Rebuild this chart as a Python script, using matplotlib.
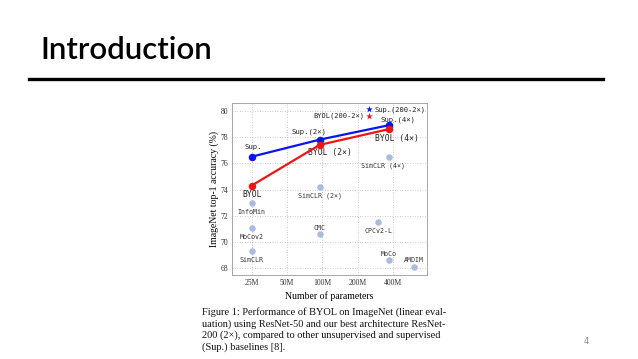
import matplotlib
matplotlib.use("Agg")
import matplotlib.pyplot as plt
from matplotlib.ticker import FixedLocator, NullLocator

# ---- data ----
sup_params = [25, 95, 370]
sup_acc = [76.5, 77.8, 78.9]
sup_labels = ["Sup.", "Sup.(2×)", "Sup.(4×)"]

byol_params = [25, 95, 370]
byol_acc = [74.3, 77.4, 78.6]
byol_labels = ["BYOL", "BYOL (2×)", "BYOL (4×)"]

star_params = [250, 250]
star_acc = [80.1, 79.6]
star_labels = ["Sup.(200-2×)", "BYOL(200-2×)"]

base_names = ["InfoMin", "MoCov2", "SimCLR", "SimCLR (2×)", "CMC",
              "SimCLR (4×)", "CPCv2-L", "MoCo", "AMDIM"]
base_params = [25, 25, 25, 95, 95, 370, 300, 370, 600]
base_acc = [73.0, 71.1, 69.3, 74.2, 70.6, 76.5, 71.5, 68.6, 68.1]

xticks = [25, 50, 100, 200, 400]
xticklabels = ["25M", "50M", "100M", "200M", "400M"]
yticks = [68, 70, 72, 74, 76, 78, 80]

W, H = 638, 359
fig = plt.figure(figsize=(W / 100, H / 100), dpi=100)
fig.patch.set_facecolor("white")

# slide title and rule
fig.text(40 / W, 1 - 50 / H, "Introduction", fontsize=22.5, family="Lato",
         weight="semibold", va="center", ha="left", color="black")
fig.add_artist(plt.Line2D([29 / W, 603 / W], [1 - 79 / H, 1 - 79 / H],
                          color="black", lw=2.4, transform=fig.transFigure))
fig.text(586 / W, 1 - 342 / H, "4", fontsize=6, color="#8c8c8c",
         ha="center", va="center")

# chart axes
left, right, top, bottom = 232, 427, 103, 275
ax = fig.add_axes([left / W, 1 - bottom / H, (right - left) / W, (bottom - top) / H])
ax.set_xscale("log")
ax.set_xlim(17, 780)
ax.set_ylim(67.49, 80.59)
ax.xaxis.set_major_locator(FixedLocator(xticks))
ax.xaxis.set_minor_locator(NullLocator())
ax.set_xticklabels(xticklabels)
ax.set_yticks(yticks)
ax.tick_params(length=0, labelsize=5.5, pad=3, colors="#333333")
for lab in ax.get_xticklabels() + ax.get_yticklabels():
    lab.set_family("Liberation Serif")
ax.grid(True, ls=(0, (1, 2)), color="#bbbbbb", lw=0.6)
for s in ax.spines.values():
    s.set_color("#999999")
    s.set_linewidth(0.6)
ax.set_xlabel("Number of parameters", family="Liberation Serif", fontsize=7, labelpad=3)
ax.set_ylabel("ImageNet top-1 accuracy (%)", family="Liberation Serif", fontsize=7, labelpad=1)

mono = "DejaVu Sans Mono"
PX = 0.72  # points per pixel

ax.scatter(base_params, base_acc, s=22, color="#a9bce0", zorder=3, linewidths=0)
base_off = [(0, 9), (0, 9), (0, 8.5), (0, 9), (0, -6),
            (-6, 9.5), (0, 8.5), (0, -6), (0, -6.5)]
for n, x, y, (dx, dy) in zip(base_names, base_params, base_acc, base_off):
    ax.annotate(n, (x, y), xytext=(dx * PX, -dy * PX), textcoords="offset points",
                ha="center", va="center", fontsize=4.8, family=mono, color="#333333")

ax.plot(sup_params, sup_acc, "-o", color="#0a14f0", lw=1.6, ms=4.4, zorder=4)
ax.plot(byol_params, byol_acc, "-o", color="#f01414", lw=1.6, ms=4.4, zorder=4)

sup_off = [(1.5, -10), (-10.5, -8.3), (9.5, -5)]
byol_off = [(0.5, 8.6), (10, 8), (7.7, 9)]
for n, x, y, (dx, dy) in zip(sup_labels, sup_params, sup_acc, sup_off):
    ax.annotate(n, (x, y), xytext=(dx * PX, -dy * PX), textcoords="offset points",
                ha="center", va="center", fontsize=5.2, family=mono, color="#222222")
for n, x, y, (dx, dy) in zip(byol_labels, byol_params, byol_acc, byol_off):
    ax.annotate(n, (x, y), xytext=(dx * PX, -dy * PX), textcoords="offset points",
                ha="center", va="center", fontsize=5.8, family=mono, color="#222222")

ax.scatter(star_params[:1], star_acc[:1], marker="*", s=26, color="#0a14f0", zorder=4, linewidths=0)
ax.scatter(star_params[1:], star_acc[1:], marker="*", s=26, color="#f01414", zorder=4, linewidths=0)
ax.annotate(star_labels[0], (star_params[0], star_acc[0]), xytext=(5 * PX, 0),
            textcoords="offset points", ha="left", va="center", fontsize=5.0,
            family=mono, color="#222222")
ax.annotate(star_labels[1], (star_params[1], star_acc[1]), xytext=(-5 * PX, 0),
            textcoords="offset points", ha="right", va="center", fontsize=5.0,
            family=mono, color="#222222")

# caption
cap_lines = [
    "Figure 1: Performance of BYOL on ImageNet (linear eval-",
    "uation) using ResNet-50 and our best architecture ResNet-",
    "200 (2×), compared to other unsupervised and supervised",
    "(Sup.) baselines [8].",
]
ys = [312.5, 324, 335.5, 347]
for t, y in zip(cap_lines, ys):
    fig.text(202 / W, 1 - y / H, t, fontsize=7.5, family="Liberation Serif",
             ha="left", va="center", color="#111111")

fig.savefig("out.png", dpi=100, facecolor="white")
